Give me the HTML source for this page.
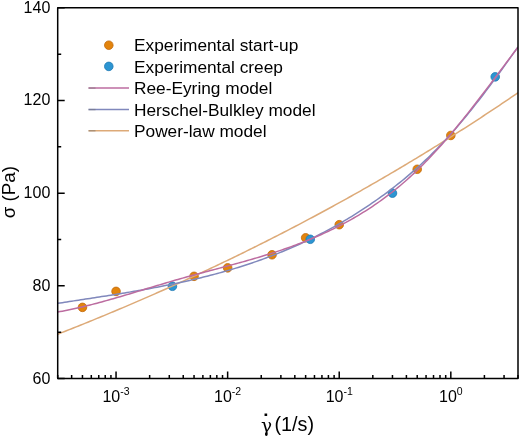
<!DOCTYPE html><html><head><meta charset="utf-8"><style>html,body{margin:0;padding:0;background:#fff;}body{width:520px;height:437px;overflow:hidden;}svg{display:block;}text{font-family:"Liberation Sans",Arial,sans-serif;fill:#000;}</style></head><body>
<svg width="520" height="437" viewBox="0 0 520 437">
<defs><clipPath id="c"><rect x="57.70" y="7.80" width="460.30" height="370.70"/></clipPath></defs>
<g clip-path="url(#c)">
<circle cx="82.46" cy="307.37" r="4.3" fill="#E3840C" stroke="#C06A0C" stroke-width="0.8"/>
<circle cx="116.05" cy="291.39" r="4.3" fill="#E3840C" stroke="#C06A0C" stroke-width="0.8"/>
<circle cx="194.05" cy="276.33" r="4.3" fill="#E3840C" stroke="#C06A0C" stroke-width="0.8"/>
<circle cx="227.64" cy="267.85" r="4.3" fill="#E3840C" stroke="#C06A0C" stroke-width="0.8"/>
<circle cx="272.04" cy="254.78" r="4.3" fill="#E3840C" stroke="#C06A0C" stroke-width="0.8"/>
<circle cx="305.64" cy="237.82" r="4.3" fill="#E3840C" stroke="#C06A0C" stroke-width="0.8"/>
<circle cx="339.23" cy="224.71" r="4.3" fill="#E3840C" stroke="#C06A0C" stroke-width="0.8"/>
<circle cx="417.22" cy="169.29" r="4.3" fill="#E3840C" stroke="#C06A0C" stroke-width="0.8"/>
<circle cx="450.82" cy="135.46" r="4.3" fill="#E3840C" stroke="#C06A0C" stroke-width="0.8"/>
<circle cx="172.42" cy="286.29" r="4.3" fill="#2C95D2" stroke="#1F7AB4" stroke-width="0.8"/>
<circle cx="310.25" cy="239.30" r="4.3" fill="#2C95D2" stroke="#1F7AB4" stroke-width="0.8"/>
<circle cx="392.47" cy="193.15" r="4.3" fill="#2C95D2" stroke="#1F7AB4" stroke-width="0.8"/>
<circle cx="495.22" cy="76.84" r="4.3" fill="#2C95D2" stroke="#1F7AB4" stroke-width="0.8"/>
<path d="M57.70,334.20 L60.01,333.29 L62.33,332.38 L64.64,331.47 L66.95,330.56 L69.27,329.64 L71.58,328.72 L73.89,327.80 L76.20,326.87 L78.52,325.94 L80.83,325.01 L83.14,324.08 L85.46,323.15 L87.77,322.21 L90.08,321.27 L92.40,320.32 L94.71,319.38 L97.02,318.43 L99.34,317.48 L101.65,316.52 L103.96,315.57 L106.27,314.61 L108.59,313.65 L110.90,312.68 L113.21,311.71 L115.53,310.74 L117.84,309.77 L120.15,308.80 L122.47,307.82 L124.78,306.84 L127.09,305.85 L129.41,304.86 L131.72,303.88 L134.03,302.88 L136.34,301.89 L138.66,300.89 L140.97,299.89 L143.28,298.89 L145.60,297.88 L147.91,296.87 L150.22,295.86 L152.54,294.84 L154.85,293.83 L157.16,292.81 L159.47,291.78 L161.79,290.76 L164.10,289.73 L166.41,288.70 L168.73,287.66 L171.04,286.62 L173.35,285.58 L175.67,284.54 L177.98,283.49 L180.29,282.44 L182.61,281.39 L184.92,280.33 L187.23,279.28 L189.54,278.21 L191.86,277.15 L194.17,276.08 L196.48,275.01 L198.80,273.94 L201.11,272.86 L203.42,271.78 L205.74,270.70 L208.05,269.61 L210.36,268.53 L212.68,267.43 L214.99,266.34 L217.30,265.24 L219.61,264.14 L221.93,263.04 L224.24,261.93 L226.55,260.82 L228.87,259.71 L231.18,258.59 L233.49,257.47 L235.81,256.35 L238.12,255.22 L240.43,254.09 L242.75,252.96 L245.06,251.82 L247.37,250.69 L249.68,249.54 L252.00,248.40 L254.31,247.25 L256.62,246.10 L258.94,244.94 L261.25,243.79 L263.56,242.62 L265.88,241.46 L268.19,240.29 L270.50,239.12 L272.82,237.95 L275.13,236.77 L277.44,235.59 L279.75,234.40 L282.07,233.22 L284.38,232.03 L286.69,230.83 L289.01,229.63 L291.32,228.43 L293.63,227.23 L295.95,226.02 L298.26,224.81 L300.57,223.59 L302.88,222.38 L305.20,221.15 L307.51,219.93 L309.82,218.70 L312.14,217.47 L314.45,216.23 L316.76,214.99 L319.08,213.75 L321.39,212.51 L323.70,211.26 L326.02,210.00 L328.33,208.75 L330.64,207.49 L332.95,206.23 L335.27,204.96 L337.58,203.69 L339.89,202.41 L342.21,201.14 L344.52,199.85 L346.83,198.57 L349.15,197.28 L351.46,195.99 L353.77,194.69 L356.09,193.39 L358.40,192.09 L360.71,190.78 L363.02,189.47 L365.34,188.16 L367.65,186.84 L369.96,185.52 L372.28,184.19 L374.59,182.87 L376.90,181.53 L379.22,180.20 L381.53,178.86 L383.84,177.51 L386.16,176.16 L388.47,174.81 L390.78,173.46 L393.09,172.10 L395.41,170.74 L397.72,169.37 L400.03,168.00 L402.35,166.62 L404.66,165.25 L406.97,163.86 L409.29,162.48 L411.60,161.09 L413.91,159.69 L416.23,158.30 L418.54,156.89 L420.85,155.49 L423.16,154.08 L425.48,152.66 L427.79,151.25 L430.10,149.82 L432.42,148.40 L434.73,146.97 L437.04,145.54 L439.36,144.10 L441.67,142.66 L443.98,141.21 L446.29,139.76 L448.61,138.31 L450.92,136.85 L453.23,135.39 L455.55,133.92 L457.86,132.45 L460.17,130.98 L462.49,129.50 L464.80,128.01 L467.11,126.53 L469.43,125.04 L471.74,123.54 L474.05,122.04 L476.36,120.54 L478.68,119.03 L480.99,117.52 L483.30,116.00 L485.62,114.48 L487.93,112.95 L490.24,111.42 L492.56,109.89 L494.87,108.35 L497.18,106.81 L499.50,105.26 L501.81,103.71 L504.12,102.16 L506.43,100.60 L508.75,99.03 L511.06,97.46 L513.37,95.89 L515.69,94.31 L518.00,92.73" fill="none" stroke="#DDAA78" stroke-width="1.5"/>
<path d="M57.70,303.36 L60.01,303.00 L62.33,302.65 L64.64,302.29 L66.95,301.93 L69.27,301.58 L71.58,301.22 L73.89,300.87 L76.20,300.52 L78.52,300.16 L80.83,299.81 L83.14,299.46 L85.46,299.10 L87.77,298.75 L90.08,298.40 L92.40,298.04 L94.71,297.69 L97.02,297.33 L99.34,296.97 L101.65,296.61 L103.96,296.25 L106.27,295.89 L108.59,295.52 L110.90,295.15 L113.21,294.79 L115.53,294.41 L117.84,294.04 L120.15,293.66 L122.47,293.29 L124.78,292.90 L127.09,292.52 L129.41,292.13 L131.72,291.74 L134.03,291.34 L136.34,290.95 L138.66,290.54 L140.97,290.14 L143.28,289.73 L145.60,289.31 L147.91,288.89 L150.22,288.47 L152.54,288.04 L154.85,287.61 L157.16,287.17 L159.47,286.72 L161.79,286.28 L164.10,285.82 L166.41,285.36 L168.73,284.90 L171.04,284.42 L173.35,283.94 L175.67,283.46 L177.98,282.97 L180.29,282.47 L182.61,281.97 L184.92,281.46 L187.23,280.94 L189.54,280.41 L191.86,279.88 L194.17,279.34 L196.48,278.79 L198.80,278.24 L201.11,277.67 L203.42,277.10 L205.74,276.52 L208.05,275.93 L210.36,275.33 L212.68,274.73 L214.99,274.11 L217.30,273.49 L219.61,272.86 L221.93,272.21 L224.24,271.56 L226.55,270.90 L228.87,270.23 L231.18,269.55 L233.49,268.86 L235.81,268.15 L238.12,267.44 L240.43,266.72 L242.75,265.98 L245.06,265.24 L247.37,264.48 L249.68,263.72 L252.00,262.94 L254.31,262.15 L256.62,261.35 L258.94,260.53 L261.25,259.71 L263.56,258.87 L265.88,258.02 L268.19,257.16 L270.50,256.28 L272.82,255.40 L275.13,254.50 L277.44,253.58 L279.75,252.66 L282.07,251.72 L284.38,250.76 L286.69,249.80 L289.01,248.81 L291.32,247.82 L293.63,246.81 L295.95,245.79 L298.26,244.75 L300.57,243.70 L302.88,242.63 L305.20,241.55 L307.51,240.45 L309.82,239.34 L312.14,238.21 L314.45,237.06 L316.76,235.91 L319.08,234.73 L321.39,233.54 L323.70,232.33 L326.02,231.11 L328.33,229.87 L330.64,228.61 L332.95,227.34 L335.27,226.05 L337.58,224.74 L339.89,223.42 L342.21,222.07 L344.52,220.72 L346.83,219.34 L349.15,217.94 L351.46,216.53 L353.77,215.10 L356.09,213.65 L358.40,212.18 L360.71,210.70 L363.02,209.19 L365.34,207.67 L367.65,206.12 L369.96,204.56 L372.28,202.98 L374.59,201.38 L376.90,199.76 L379.22,198.11 L381.53,196.45 L383.84,194.77 L386.16,193.06 L388.47,191.34 L390.78,189.58 L393.09,187.81 L395.41,186.01 L397.72,184.18 L400.03,182.33 L402.35,180.46 L404.66,178.55 L406.97,176.62 L409.29,174.67 L411.60,172.68 L413.91,170.66 L416.23,168.62 L418.54,166.54 L420.85,164.43 L423.16,162.29 L425.48,160.12 L427.79,157.92 L430.10,155.68 L432.42,153.41 L434.73,151.10 L437.04,148.76 L439.36,146.38 L441.67,143.97 L443.98,141.52 L446.29,139.03 L448.61,136.50 L450.92,133.94 L453.23,131.34 L455.55,128.69 L457.86,126.02 L460.17,123.30 L462.49,120.55 L464.80,117.77 L467.11,114.96 L469.43,112.11 L471.74,109.23 L474.05,106.33 L476.36,103.39 L478.68,100.43 L480.99,97.45 L483.30,94.43 L485.62,91.39 L487.93,88.33 L490.24,85.25 L492.56,82.15 L494.87,79.02 L497.18,75.88 L499.50,72.72 L501.81,69.54 L504.12,66.35 L506.43,63.14 L508.75,59.92 L511.06,56.68 L513.37,53.43 L515.69,50.18 L518.00,46.91" fill="none" stroke="#8088BC" stroke-width="1.5"/>
<path d="M57.70,311.99 L60.01,311.57 L62.33,311.14 L64.64,310.70 L66.95,310.24 L69.27,309.77 L71.58,309.28 L73.89,308.78 L76.20,308.27 L78.52,307.74 L80.83,307.21 L83.14,306.66 L85.46,306.10 L87.77,305.53 L90.08,304.95 L92.40,304.36 L94.71,303.76 L97.02,303.15 L99.34,302.54 L101.65,301.91 L103.96,301.28 L106.27,300.64 L108.59,299.99 L110.90,299.34 L113.21,298.68 L115.53,298.02 L117.84,297.34 L120.15,296.67 L122.47,295.99 L124.78,295.31 L127.09,294.62 L129.41,293.93 L131.72,293.23 L134.03,292.54 L136.34,291.84 L138.66,291.14 L140.97,290.44 L143.28,289.74 L145.60,289.04 L147.91,288.34 L150.22,287.64 L152.54,286.94 L154.85,286.24 L157.16,285.54 L159.47,284.85 L161.79,284.16 L164.10,283.47 L166.41,282.78 L168.73,282.10 L171.04,281.42 L173.35,280.75 L175.67,280.08 L177.98,279.42 L180.29,278.76 L182.61,278.11 L184.92,277.47 L187.23,276.82 L189.54,276.19 L191.86,275.55 L194.17,274.93 L196.48,274.30 L198.80,273.68 L201.11,273.06 L203.42,272.44 L205.74,271.82 L208.05,271.20 L210.36,270.59 L212.68,269.97 L214.99,269.36 L217.30,268.74 L219.61,268.13 L221.93,267.51 L224.24,266.89 L226.55,266.27 L228.87,265.65 L231.18,265.03 L233.49,264.40 L235.81,263.77 L238.12,263.13 L240.43,262.50 L242.75,261.85 L245.06,261.20 L247.37,260.55 L249.68,259.89 L252.00,259.22 L254.31,258.55 L256.62,257.87 L258.94,257.19 L261.25,256.49 L263.56,255.79 L265.88,255.08 L268.19,254.36 L270.50,253.63 L272.82,252.89 L275.13,252.15 L277.44,251.39 L279.75,250.62 L282.07,249.84 L284.38,249.05 L286.69,248.24 L289.01,247.43 L291.32,246.60 L293.63,245.75 L295.95,244.90 L298.26,244.03 L300.57,243.15 L302.88,242.25 L305.20,241.33 L307.51,240.41 L309.82,239.46 L312.14,238.50 L314.45,237.52 L316.76,236.53 L319.08,235.52 L321.39,234.49 L323.70,233.44 L326.02,232.38 L328.33,231.29 L330.64,230.19 L332.95,229.06 L335.27,227.92 L337.58,226.75 L339.89,225.57 L342.21,224.36 L344.52,223.14 L346.83,221.89 L349.15,220.61 L351.46,219.32 L353.77,218.00 L356.09,216.65 L358.40,215.29 L360.71,213.89 L363.02,212.47 L365.34,211.02 L367.65,209.55 L369.96,208.05 L372.28,206.52 L374.59,204.96 L376.90,203.37 L379.22,201.75 L381.53,200.10 L383.84,198.41 L386.16,196.70 L388.47,194.95 L390.78,193.17 L393.09,191.36 L395.41,189.51 L397.72,187.63 L400.03,185.71 L402.35,183.75 L404.66,181.76 L406.97,179.73 L409.29,177.66 L411.60,175.56 L413.91,173.41 L416.23,171.23 L418.54,169.00 L420.85,166.74 L423.16,164.43 L425.48,162.09 L427.79,159.71 L430.10,157.29 L432.42,154.83 L434.73,152.34 L437.04,149.81 L439.36,147.25 L441.67,144.65 L443.98,142.03 L446.29,139.37 L448.61,136.67 L450.92,133.95 L453.23,131.19 L455.55,128.41 L457.86,125.60 L460.17,122.76 L462.49,119.90 L464.80,117.02 L467.11,114.11 L469.43,111.18 L471.74,108.23 L474.05,105.27 L476.36,102.28 L478.68,99.28 L480.99,96.27 L483.30,93.24 L485.62,90.20 L487.93,87.15 L490.24,84.09 L492.56,81.02 L494.87,77.95 L497.18,74.87 L499.50,71.78 L501.81,68.70 L504.12,65.61 L506.43,62.52 L508.75,59.43 L511.06,56.35 L513.37,53.27 L515.69,50.19 L518.00,47.12" fill="none" stroke="#BC6CA0" stroke-width="1.5"/>
</g>
<rect x="57.70" y="7.80" width="460.30" height="370.70" fill="none" stroke="#000" stroke-width="1.5" stroke-linejoin="round"/>
<path d="M57.70,378.50h7 M57.70,332.16h3.5 M57.70,285.82h7 M57.70,239.49h3.5 M57.70,193.15h7 M57.70,146.81h3.5 M57.70,100.48h7 M57.70,54.14h3.5 M57.70,7.80h7 M57.70,378.50v-3.5 M71.64,378.50v-3.5 M82.46,378.50v-3.5 M91.29,378.50v-3.5 M98.76,378.50v-3.5 M105.23,378.50v-3.5 M110.94,378.50v-3.5 M116.05,378.50v-7 M149.64,378.50v-3.5 M169.29,378.50v-3.5 M183.23,378.50v-3.5 M194.05,378.50v-3.5 M202.88,378.50v-3.5 M210.35,378.50v-3.5 M216.82,378.50v-3.5 M222.53,378.50v-3.5 M227.64,378.50v-7 M261.23,378.50v-3.5 M280.88,378.50v-3.5 M294.82,378.50v-3.5 M305.64,378.50v-3.5 M314.47,378.50v-3.5 M321.94,378.50v-3.5 M328.41,378.50v-3.5 M334.12,378.50v-3.5 M339.23,378.50v-7 M372.82,378.50v-3.5 M392.47,378.50v-3.5 M406.41,378.50v-3.5 M417.22,378.50v-3.5 M426.06,378.50v-3.5 M433.53,378.50v-3.5 M440.00,378.50v-3.5 M445.71,378.50v-3.5 M450.82,378.50v-7 M484.41,378.50v-3.5 M504.06,378.50v-3.5 M518.00,378.50v-3.5" stroke="#000" stroke-width="1.5" fill="none"/>
<text x="50.3" y="383.50" font-size="16" text-anchor="end">60</text>
<text x="50.3" y="290.82" font-size="16" text-anchor="end">80</text>
<text x="50.3" y="198.15" font-size="16" text-anchor="end">100</text>
<text x="50.3" y="105.48" font-size="16" text-anchor="end">120</text>
<text x="50.3" y="12.80" font-size="16" text-anchor="end">140</text>
<text x="116.05" y="401.9" font-size="16" text-anchor="middle">10<tspan font-size="10.5" dy="-7.2">-3</tspan></text>
<text x="227.64" y="401.9" font-size="16" text-anchor="middle">10<tspan font-size="10.5" dy="-7.2">-2</tspan></text>
<text x="339.23" y="401.9" font-size="16" text-anchor="middle">10<tspan font-size="10.5" dy="-7.2">-1</tspan></text>
<text x="450.82" y="401.9" font-size="16" text-anchor="middle">10<tspan font-size="10.5" dy="-7.2">0</tspan></text>
<text x="261.0" y="431.9" font-size="18.5" style="font-family:'DejaVu Serif',serif">γ</text>
<text x="267.2" y="434.8" font-size="30" text-anchor="middle">˙</text>
<text x="274.5" y="431.4" font-size="19.8">(1/s)</text>
<text transform="translate(15.2,192.2) rotate(-90)" font-size="18.8" text-anchor="middle">σ (Pa)</text>
<circle cx="108.8" cy="45.2" r="4.3" fill="#E3840C" stroke="#C06A0C" stroke-width="0.8"/>
<text x="134.0" y="51.30" font-size="17.3">Experimental start-up</text>
<circle cx="108.8" cy="66.4" r="4.3" fill="#2C95D2" stroke="#1F7AB4" stroke-width="0.8"/>
<text x="134.0" y="72.50" font-size="17.3">Experimental creep</text>
<path d="M88.5,88.1H129" stroke="#BC6CA0" stroke-width="1.5"/>
<path d="M88.5,88.1H95.5" stroke="#707070" stroke-opacity="0.45" stroke-width="1.5"/>
<text x="134.0" y="94.20" font-size="17.3">Ree-Eyring model</text>
<path d="M88.5,109.6H129" stroke="#8088BC" stroke-width="1.5"/>
<path d="M88.5,109.6H95.5" stroke="#707070" stroke-opacity="0.45" stroke-width="1.5"/>
<text x="134.0" y="115.70" font-size="17.3">Herschel-Bulkley model</text>
<path d="M88.5,130.8H129" stroke="#DDAA78" stroke-width="1.5"/>
<path d="M88.5,130.8H95.5" stroke="#707070" stroke-opacity="0.45" stroke-width="1.5"/>
<text x="134.0" y="136.90" font-size="17.3">Power-law model</text>
</svg></body></html>
